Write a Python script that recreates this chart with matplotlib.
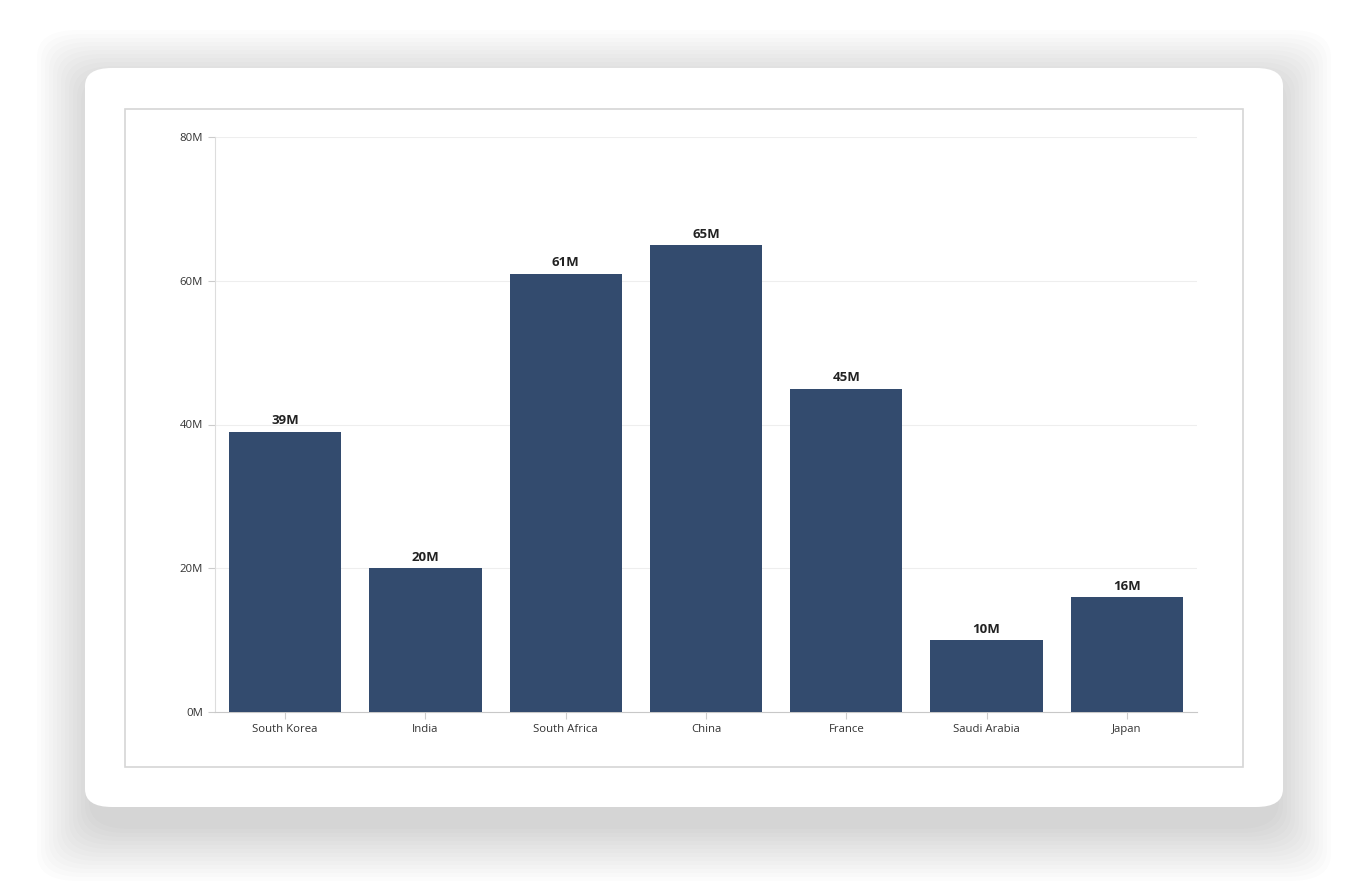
import matplotlib.pyplot as plt
from matplotlib.patches import FancyBboxPatch, Rectangle

countries = ['South Korea', 'India', 'South Africa', 'China', 'France', 'Saudi Arabia', 'Japan']
values = [39, 20, 61, 65, 45, 10, 16]  # millions
yticks = [0, 20, 40, 60, 80]

plt.rcParams['font.family'] = ['Open Sans', 'DejaVu Sans']

W, H = 1352, 892
fig = plt.figure(figsize=(W / 100, H / 100), dpi=100)
fig.patch.set_facecolor('white')

# soft shadow behind the card
for i in range(14):
    grow = 4 + i * 4
    fig.patches.append(FancyBboxPatch(
        ((85 - grow + 8) / W, 1 - (807 + grow + 18) / H),
        (1198 + 2 * grow - 16) / W, (739 + 2 * grow) / H,
        boxstyle='round,pad=0,rounding_size=0.03',
        transform=fig.transFigure, facecolor='#000000', edgecolor='none',
        alpha=0.012, zorder=0))

# white card
fig.patches.append(FancyBboxPatch(
    (85 / W, 1 - 807 / H), 1198 / W, 739 / H,
    boxstyle='round,pad=0,rounding_size=0.02',
    transform=fig.transFigure, facecolor='white', edgecolor='none', zorder=1))

# inner border
fig.patches.append(Rectangle(
    (125 / W, 1 - 767 / H), 1118 / W, 658 / H,
    transform=fig.transFigure, facecolor='none', edgecolor='#d6d6d6',
    linewidth=1.2, zorder=2))

ax = fig.add_axes([215 / W, 1 - 712 / H, 982 / W, 575 / H])
ax.set_zorder(3)
ax.patch.set_alpha(0)

x = range(len(countries))
bars = ax.bar(x, values, width=0.8, color='#334b6e', zorder=3)
for xi, v in zip(x, values):
    ax.text(xi, v + 0.6, f'{v}M', ha='center', va='bottom',
            fontsize=9.5, fontweight='bold', color='#222222')

ax.set_xlim(-0.5, len(countries) - 0.5)
ax.set_ylim(0, 80)
ax.set_yticks(yticks)
ax.set_yticklabels([f'{t}M' for t in yticks])
ax.set_xticks(list(x))
ax.set_xticklabels(countries)
ax.grid(axis='y', color='#eeeeee', linewidth=0.8, zorder=0)
ax.tick_params(axis='both', labelsize=8.2, colors='#cccccc', labelcolor='#333333',
               length=5, width=0.8)
for s in ['top', 'right']:
    ax.spines[s].set_visible(False)
ax.spines['left'].set_color('#dddddd')
ax.spines['bottom'].set_color('#c8c8c8')

fig.savefig('out.png', dpi=100, facecolor='white')
